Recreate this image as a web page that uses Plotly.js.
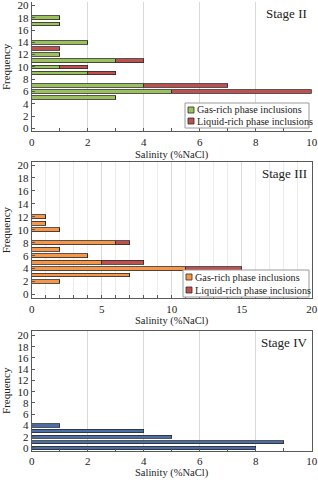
<!DOCTYPE html>
<html>
<head>
<meta charset="utf-8">
<script src="https://cdn.plot.ly/plotly-3.0.1.min.js"></script>
<style>html,body{margin:0;padding:0;background:#fff}#chart{width:318px;height:480px}</style>
</head>
<body>
<div id="chart"></div>
<script>
// Stage II
const s2Freq = [5, 6, 7, 9, 10, 11, 12, 13, 14, 17, 18];
const s2Gas = [3, 5, 4, 2, 1, 3, 1, 0, 2, 1, 1];
const s2Liquid = [0, 5, 3, 1, 1, 1, 0, 1, 0, 0, 0];
// Stage III
const s3Freq = [2, 3, 4, 5, 6, 7, 8, 10, 11, 12];
const s3Gas = [2, 7, 11, 5, 4, 2, 6, 2, 1, 1];
const s3Liquid = [0, 0, 4, 3, 0, 0, 1, 0, 0, 0];
// Stage IV
const s4Freq = [0, 1, 2, 3, 4];
const s4Val = [8, 9, 5, 4, 1];

const seriesNames = ['Gas-rich phase inclusions', 'Liquid-rich phase inclusions'];
const stageLabels = ['Stage II', 'Stage III', 'Stage IV'];
const xTitle = 'Salinity (%NaCl)';
const yTitle = 'Frequency';

const FONT = 'Liberation Serif';
const green = '#9bc25a', red = '#c0504d', orange = '#f79646', blue = '#4a6fa8';
const edge = '#2b2b2b';
const bw = 0.58;

function bar(x, y, color, name, xa, ya) {
  return {type: 'bar', orientation: 'h', x: x, y: y, name: name, xaxis: xa, yaxis: ya,
    width: bw, marker: {color: color, line: {color: edge, width: 0.8}},
    showlegend: false, hoverinfo: 'x+y'};
}

const traces = [
  bar(s2Gas, s2Freq, green, seriesNames[0], 'x', 'y'),
  bar(s2Liquid, s2Freq, red, seriesNames[1], 'x', 'y'),
  bar(s3Gas, s3Freq, orange, seriesNames[0], 'x2', 'y2'),
  bar(s3Liquid, s3Freq, red, seriesNames[1], 'x2', 'y2'),
  bar(s4Val, s4Freq, blue, 'Stage IV', 'x3', 'y3')
];

const xdom = [31.7/318, 311.7/318];
function xa(range, dtick, anchor, mirror) {
  return {domain: xdom, range: range, dtick: dtick, anchor: anchor,
    showgrid: true, gridcolor: '#d9d9d9', gridwidth: 1, zeroline: false,
    showline: true, linecolor: '#595959', linewidth: 1, mirror: mirror,
    ticks: 'inside', ticklen: 3, tickcolor: '#595959', ticklabeloverflow: 'allow',
    minor: {dtick: 1, ticks: 'inside', ticklen: 3, tickcolor: '#595959', showgrid: dtick === 5, gridcolor: '#ececec'},
    tickfont: {family: FONT, size: 11, color: '#222'},
    fixedrange: true};
}
function ya(range, domain, anchor, mirror) {
  return {domain: domain, range: range, dtick: 2, anchor: anchor,
    showgrid: false, zeroline: false, showline: true, linecolor: '#595959', linewidth: 1, mirror: mirror,
    ticks: 'inside', ticklen: 3, tickcolor: '#595959', ticklabeloverflow: 'allow',
    tickfont: {family: FONT, size: 11, color: '#222'},
    title: {text: yTitle, font: {family: FONT, size: 11, color: '#222'}, standoff: 5},
    fixedrange: true};
}
function py(p) { return 1 - p/480; }
function pxp(p) { return p/318; }

const shapes = [];
const annotations = [];
// manual compact legends (Excel style)
function legendBox(x0, y0, x1, y1, rows, colors) {
  shapes.push({type: 'rect', xref: 'paper', yref: 'paper', x0: pxp(x0), x1: pxp(x1), y0: py(y1), y1: py(y0),
    fillcolor: '#fff', line: {color: '#9a9a9a', width: 1}, layer: 'above'});
  rows.forEach((ry, i) => {
    shapes.push({type: 'rect', xref: 'paper', yref: 'paper', x0: pxp(x0 + 3), x1: pxp(x0 + 9), y0: py(ry + 3), y1: py(ry - 3),
      fillcolor: colors[i], line: {color: edge, width: 0.8}, layer: 'above'});
    annotations.push({text: seriesNames[i], xref: 'paper', yref: 'paper', x: pxp(x0 + 10), y: py(ry), xanchor: 'left', yanchor: 'middle',
      showarrow: false, font: {family: FONT, size: 10.2, color: '#222'}});
  });
}
legendBox(185, 103, 309, 128, [110, 121], [green, red]);
legendBox(183, 270, 309, 297, [277, 290], [orange, red]);

// stage labels
[[4, 0], [164, 1], [333, 2]].forEach(([y, i]) => annotations.push({
  text: stageLabels[i], xref: 'paper', yref: 'paper', x: pxp(309), y: py(y), xanchor: 'right', yanchor: 'top',
  showarrow: false, font: {family: FONT, size: 13, color: '#222'}}));

// x-axis titles (bottom edge of each text box)
[162, 328, 480].forEach(y => annotations.push({
  text: xTitle, xref: 'paper', yref: 'paper', x: (xdom[0] + xdom[1]) / 2, y: py(y), xanchor: 'center', yanchor: 'bottom',
  showarrow: false, font: {family: FONT, size: 10.5, color: '#222'}, borderpad: 0}));

const layout = {
  width: 318, height: 480, margin: {l: 0, r: 0, t: 0, b: 0},
  paper_bgcolor: '#fff', plot_bgcolor: '#fff', barmode: 'stack', bargap: 0,
  showlegend: false,
  xaxis: xa([0, 10], 2, 'y', false),
  yaxis: ya([-0.5, 20.5], [py(131.4), py(2.4)], 'x', false),
  xaxis2: xa([0, 20], 5, 'y2', true),
  yaxis2: ya([-0.6, 20.5], [py(298.4), py(161.8)], 'x2', true),
  xaxis3: xa([0, 10], 2, 'y3', true),
  yaxis3: ya([-0.45, 20.8], [py(450.5), py(331)], 'x3', true),
  shapes: shapes,
  annotations: annotations
};

Plotly.newPlot('chart', traces, layout, {displayModeBar: false, staticPlot: true});
</script>
</body>
</html>
